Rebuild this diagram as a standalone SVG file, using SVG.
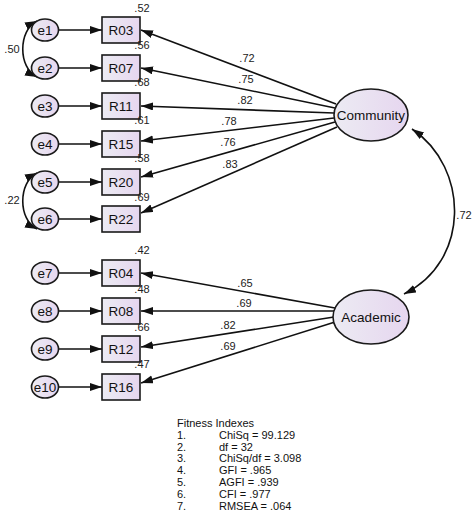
<svg xmlns="http://www.w3.org/2000/svg" width="474" height="513" viewBox="0 0 474 513">
<style>
.n{stroke:#1a1a1a;stroke-width:1.6}
.t{font-family:"Liberation Sans",Arial,sans-serif;font-size:13.5px;fill:#111;text-anchor:middle}
.s{font-family:"Liberation Sans",Arial,sans-serif;font-size:11px;fill:#222;text-anchor:middle}
.f{font-family:"Liberation Sans",Arial,sans-serif;font-size:11px;fill:#111}
.c{stroke:#111;stroke-width:1.6;fill:none}
</style>
<defs>
<linearGradient id="g" x1="0" y1="0" x2="1" y2="0">
<stop offset="0" stop-color="#ecebf3"/>
<stop offset="1" stop-color="#e6d6ef"/>
</linearGradient>
<marker id="a" markerUnits="userSpaceOnUse" markerWidth="13" markerHeight="9" refX="12" refY="4" orient="auto-start-reverse">
<path d="M0,0 L12,4 L0,8 z" fill="#111"/>
</marker>
</defs>
<rect width="474" height="513" fill="#fff"/>
<g id="connectors" class="c">
<line x1="58.5" y1="30" x2="102" y2="30" marker-end="url(#a)"/>
<line x1="58.5" y1="68" x2="102" y2="68" marker-end="url(#a)"/>
<line x1="58.5" y1="106" x2="102" y2="106" marker-end="url(#a)"/>
<line x1="58.5" y1="144" x2="102" y2="144" marker-end="url(#a)"/>
<line x1="58.5" y1="182" x2="102" y2="182" marker-end="url(#a)"/>
<line x1="58.5" y1="219" x2="102" y2="219" marker-end="url(#a)"/>
<line x1="58.5" y1="273" x2="102" y2="273" marker-end="url(#a)"/>
<line x1="58.5" y1="311" x2="102" y2="311" marker-end="url(#a)"/>
<line x1="58.5" y1="349" x2="102" y2="349" marker-end="url(#a)"/>
<line x1="58.5" y1="387" x2="102" y2="387" marker-end="url(#a)"/>
<line x1="336" y1="104" x2="141" y2="30" marker-end="url(#a)"/>
<line x1="335" y1="108" x2="141" y2="68" marker-end="url(#a)"/>
<line x1="334" y1="113" x2="141" y2="106" marker-end="url(#a)"/>
<line x1="334" y1="118" x2="141" y2="141" marker-end="url(#a)"/>
<line x1="335" y1="122" x2="141" y2="177" marker-end="url(#a)"/>
<line x1="337" y1="127" x2="141" y2="213" marker-end="url(#a)"/>
<line x1="335" y1="308" x2="141" y2="273" marker-end="url(#a)"/>
<line x1="334" y1="311" x2="141" y2="311" marker-end="url(#a)"/>
<line x1="334" y1="317" x2="141" y2="347" marker-end="url(#a)"/>
<line x1="335" y1="322" x2="141" y2="383" marker-end="url(#a)"/>
<path d="M37,21 C18,30 18,68 37,77" marker-start="url(#a)" marker-end="url(#a)"/>
<path d="M37,173 C18,182 18,220 37,229" marker-start="url(#a)" marker-end="url(#a)"/>
<path d="M412,129 C470,168 470,262 404,294" marker-start="url(#a)" marker-end="url(#a)"/>
</g>
<g id="labels">
<text class="s" x="12" y="53">.50</text>
<text class="s" x="12" y="204">.22</text>
<text class="s" x="464" y="219">.72</text>
<text class="s" x="247" y="62">.72</text>
<text class="s" x="246" y="83">.75</text>
<text class="s" x="245" y="104">.82</text>
<text class="s" x="229" y="125">.78</text>
<text class="s" x="228" y="146">.76</text>
<text class="s" x="230" y="168">.83</text>
<text class="s" x="245" y="287">.65</text>
<text class="s" x="244" y="307">.69</text>
<text class="s" x="228" y="329">.82</text>
<text class="s" x="228" y="350">.69</text>
</g>
<g id="e1"><ellipse class="n" cx="45" cy="30" rx="13.5" ry="11" fill="url(#g)"/><text class="t" x="45" y="35">e1</text></g>
<g id="e2"><ellipse class="n" cx="45" cy="68" rx="13.5" ry="11" fill="url(#g)"/><text class="t" x="45" y="73">e2</text></g>
<g id="e3"><ellipse class="n" cx="45" cy="106" rx="13.5" ry="11" fill="url(#g)"/><text class="t" x="45" y="111">e3</text></g>
<g id="e4"><ellipse class="n" cx="45" cy="144" rx="13.5" ry="11" fill="url(#g)"/><text class="t" x="45" y="149">e4</text></g>
<g id="e5"><ellipse class="n" cx="45" cy="182" rx="13.5" ry="11" fill="url(#g)"/><text class="t" x="45" y="187">e5</text></g>
<g id="e6"><ellipse class="n" cx="45" cy="219" rx="13.5" ry="11" fill="url(#g)"/><text class="t" x="45" y="224">e6</text></g>
<g id="e7"><ellipse class="n" cx="45" cy="273" rx="13.5" ry="11" fill="url(#g)"/><text class="t" x="45" y="278">e7</text></g>
<g id="e8"><ellipse class="n" cx="45" cy="311" rx="13.5" ry="11" fill="url(#g)"/><text class="t" x="45" y="316">e8</text></g>
<g id="e9"><ellipse class="n" cx="45" cy="349" rx="13.5" ry="11" fill="url(#g)"/><text class="t" x="45" y="354">e9</text></g>
<g id="e10"><ellipse class="n" cx="45" cy="387" rx="13.5" ry="11" fill="url(#g)"/><text class="t" x="45" y="392">e10</text></g>
<g id="R03"><rect class="n" x="102" y="17" width="38" height="26" fill="url(#g)"/><text class="t" x="121" y="35">R03</text><text class="s" x="142" y="12">.52</text></g>
<g id="R07"><rect class="n" x="102" y="55" width="38" height="26" fill="url(#g)"/><text class="t" x="121" y="73">R07</text><text class="s" x="142" y="49">.56</text></g>
<g id="R11"><rect class="n" x="102" y="93" width="38" height="26" fill="url(#g)"/><text class="t" x="121" y="111">R11</text><text class="s" x="142" y="86">.68</text></g>
<g id="R15"><rect class="n" x="102" y="131" width="38" height="26" fill="url(#g)"/><text class="t" x="121" y="149">R15</text><text class="s" x="142" y="124">.61</text></g>
<g id="R20"><rect class="n" x="102" y="169" width="38" height="26" fill="url(#g)"/><text class="t" x="121" y="187">R20</text><text class="s" x="142" y="162">.58</text></g>
<g id="R22"><rect class="n" x="102" y="206" width="38" height="26" fill="url(#g)"/><text class="t" x="121" y="224">R22</text><text class="s" x="142" y="201">.69</text></g>
<g id="R04"><rect class="n" x="102" y="260" width="38" height="26" fill="url(#g)"/><text class="t" x="121" y="278">R04</text><text class="s" x="142" y="254">.42</text></g>
<g id="R08"><rect class="n" x="102" y="298" width="38" height="26" fill="url(#g)"/><text class="t" x="121" y="316">R08</text><text class="s" x="142" y="293">.48</text></g>
<g id="R12"><rect class="n" x="102" y="336" width="38" height="26" fill="url(#g)"/><text class="t" x="121" y="354">R12</text><text class="s" x="142" y="331">.66</text></g>
<g id="R16"><rect class="n" x="102" y="374" width="38" height="26" fill="url(#g)"/><text class="t" x="121" y="392">R16</text><text class="s" x="142" y="368">.47</text></g>
<g id="Community"><ellipse class="n" cx="371" cy="115" rx="37" ry="26" fill="url(#g)"/><text class="t" x="371" y="120">Community</text></g>
<g id="Academic"><ellipse class="n" cx="371" cy="317" rx="38" ry="27" fill="url(#g)"/><text class="t" x="371" y="322">Academic</text></g>
<g id="fitness" class="f">
<text x="177" y="427">Fitness Indexes</text>
<text x="177" y="439">1.</text><text x="219" y="439">ChiSq = 99.129</text>
<text x="177" y="451">2.</text><text x="219" y="451">df = 32</text>
<text x="177" y="462">3.</text><text x="219" y="462">ChiSq/df = 3.098</text>
<text x="177" y="474">4.</text><text x="219" y="474">GFI = .965</text>
<text x="177" y="486">5.</text><text x="219" y="486">AGFI = .939</text>
<text x="177" y="498">6.</text><text x="219" y="498">CFI = .977</text>
<text x="177" y="510">7.</text><text x="219" y="510">RMSEA = .064</text>
</g>
</svg>
